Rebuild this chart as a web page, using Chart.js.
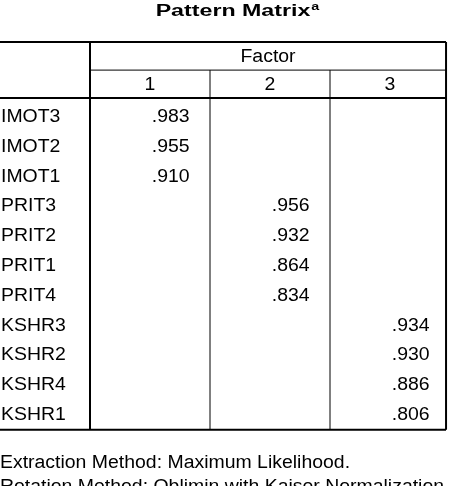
<!DOCTYPE html>
<html><head><meta charset="utf-8">
<script src="https://cdn.jsdelivr.net/npm/chart.js@4"></script>
<style>html,body{margin:0;padding:0;background:#fff}#w{width:474px;height:486px}</style>
</head><body><div id="w"><canvas id="c"></canvas></div>
<script>
const title = 'Pattern Matrix';
const titleSup = 'a';
const factorHeader = 'Factor';
const factorLabels = ['1', '2', '3'];
const rowLabels = ['IMOT3','IMOT2','IMOT1','PRIT3','PRIT2','PRIT1','PRIT4','KSHR3','KSHR2','KSHR4','KSHR1'];
const factor1 = ['.983','.955','.910',null,null,null,null,null,null,null,null];
const factor2 = [null,null,null,'.956','.932','.864','.834',null,null,null,null];
const factor3 = [null,null,null,null,null,null,null,'.934','.930','.886','.806'];
const footnotes = ['Extraction Method: Maximum Likelihood.','Rotation Method: Oblimin with Kaiser Normalization.'];

const factors = [factor1, factor2, factor3];
const datasets = factors.map((f, fi) => ({
  data: f.map((v, ri) => v === null ? null : {x: fi + 0.5, y: ri, label: v}).filter(Boolean),
  pointRadius: 0
}));

const FONT = '"Liberation Sans", Arial, sans-serif';
const tablePlugin = {
  id: 'table',
  afterDraw(chart) {
    const ctx = chart.ctx, xs = chart.scales.x, ys = chart.scales.y;
    const X = v => xs.getPixelForValue(v), Y = v => ys.getPixelForValue(v);
    const nRows = rowLabels.length;
    const yTop = -2.48, yMid = -1.54, yHead = -0.6, yBot = nRows - 0.47;
    ctx.save();
    ctx.strokeStyle = '#000';
    const line = (x1, y1, x2, y2, w) => { ctx.lineWidth = w; ctx.beginPath(); ctx.moveTo(x1, y1); ctx.lineTo(x2, y2); ctx.stroke(); };
    const xLeft = X(-0.75), xSep = X(0), xEnd = X(2.967);
    line(xLeft, Y(yTop), xEnd, Y(yTop), 2);
    line(xEnd, Y(yTop), xEnd, Y(yBot), 2);
    line(xLeft, Y(yBot), xEnd, Y(yBot), 2);
    line(xSep, Y(yTop), xSep, Y(yBot), 2);
    line(xLeft, Y(yHead), xEnd, Y(yHead), 2);
    line(xSep, Y(yMid), xEnd, Y(yMid), 1);
    line(X(1), Y(yMid), X(1), Y(yBot), 1);
    line(X(2), Y(yMid), X(2), Y(yBot), 1);

    ctx.fillStyle = '#000';
    ctx.textBaseline = 'middle';
    const txt = (s, x, y, align, sx) => {
      ctx.save(); ctx.translate(x, y); ctx.scale(sx, 1); ctx.textAlign = align; ctx.fillText(s, 0, 0); ctx.restore();
    };
    // title
    ctx.font = 'bold 16px ' + FONT;
    const tsx = 1.45;
    const tw = ctx.measureText(title).width * tsx;
    const tcx = 233;
    txt(title, tcx - tw / 2, Y(-3.49), 'left', tsx);
    ctx.font = 'bold 11px ' + FONT;
    txt(titleSup, tcx + tw / 2 + 1, Y(-3.49) - 5, 'left', 1.3);

    ctx.font = '18px ' + FONT;
    const s = 1.08;
    txt(factorHeader, (xSep + xEnd) / 2, Y((yTop + yMid) / 2) + 1, 'center', s);
    factorLabels.forEach((l, i) => txt(l, X(i + 0.5), Y((yMid + yHead) / 2) + 1, 'center', s));
    rowLabels.forEach((l, i) => txt(l, xLeft + 1, Y(i) + 1, 'left', s));
    chart.data.datasets.forEach(ds => ds.data.forEach(p => txt(p.label, X(p.x + 0.33), Y(p.y) + 1, 'right', s)));
    footnotes.forEach((f, i) => txt(f, xLeft, Y(nRows + 0.66 + i * 0.8), 'left', s));
    ctx.restore();
  }
};

new Chart(document.getElementById('c'), {
  type: 'scatter',
  data: { datasets },
  options: {
    responsive: true, maintainAspectRatio: false, animation: false,
    layout: { padding: 0 },
    plugins: { legend: { display: false }, tooltip: { enabled: false } },
    scales: {
      x: { type: 'linear', display: false, min: -0.75, max: 474 / 120 - 0.75 },
      y: { type: 'linear', display: false, reverse: true, min: -116 / 29.8, max: (486 - 116) / 29.8 }
    }
  },
  plugins: [tablePlugin]
});
</script></body></html>
